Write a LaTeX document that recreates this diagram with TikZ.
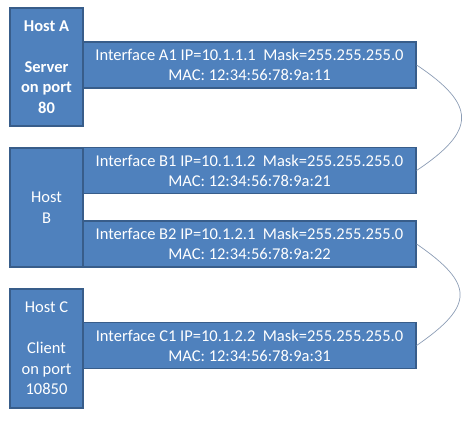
\documentclass[tikz,border=0pt]{standalone}
\usepackage{fontspec}
\setmainfont{Carlito}
\definecolor{boxfill}{HTML}{4F81BD}
\definecolor{boxline}{HTML}{385D8A}
\definecolor{cable}{HTML}{8C9DB5}
\begin{document}
\begin{tikzpicture}[
    x=1pt,y=-1pt,
    host/.style={rectangle,draw=boxline,line width=1.2pt,fill=boxfill,text=white,minimum width=73pt,align=center,font=\fontsize{16.5}{20.5}\selectfont},
    iface/.style={rectangle,draw=boxline,line width=1.2pt,fill=boxfill,text=white,minimum width=333pt,minimum height=46pt,inner sep=1pt,align=center,font=\fontsize{16.5}{20}\selectfont},
    link/.style={draw=cable,line width=0.7pt}
]
    \useasboundingbox (0,0) rectangle (474,423);

    % Hosts
    \node[host,minimum height=118pt,font=\bfseries\fontsize{16.5}{20.5}\selectfont] (hostA) at (46.5,67) {Host A\\ \\Server\\on port\\80};
    \node[host,minimum height=119pt] (hostB) at (46.5,207.5) {Host\\B};
    \node[host,minimum height=119pt] (hostC) at (46.5,348.5) {Host C\\ \\Client\\on port\\10850};

    % Interfaces
    \node[iface] (ifA1) at (249.5,65) {Interface A1 IP=10.1.1.1\ \ Mask=255.255.255.0\\MAC: 12:34:56:78:9a:11};
    \node[iface] (ifB1) at (249.5,170.5) {Interface B1 IP=10.1.1.2\ \ Mask=255.255.255.0\\MAC: 12:34:56:78:9a:21};
    \node[iface] (ifB2) at (249.5,244) {Interface B2 IP=10.1.2.1\ \ Mask=255.255.255.0\\MAC: 12:34:56:78:9a:22};
    \node[iface] (ifC1) at (249.5,345.5) {Interface C1 IP=10.1.2.2\ \ Mask=255.255.255.0\\MAC: 12:34:56:78:9a:31};

    % Cables
    \draw[link] (ifA1.east) .. controls +(60,40) and +(60,-40) .. (ifB1.east);
    \draw[link] (ifB2.east) .. controls +(58,40) and +(58,-40) .. (ifC1.east);
\end{tikzpicture}
\end{document}
